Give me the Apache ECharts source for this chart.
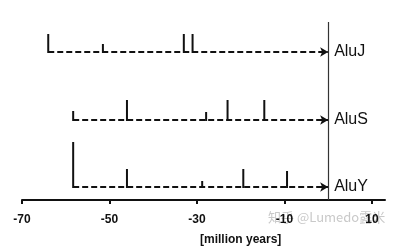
<!DOCTYPE html>
<html>
<head>
<meta charset="utf-8">
<script src="https://cdn.jsdelivr.net/npm/echarts@6/dist/echarts.min.js"></script>
<style>html,body{margin:0;padding:0;background:#fff}#c{width:400px;height:247px}</style>
</head>
<body>
<div id="c"></div>
<script>
// Data (million years before present, spike heights in arbitrary units)
var families = ['AluJ', 'AluS', 'AluY'];
var alujTimes = [-64, -51.5, -33, -31];
var alujHeights = [18, 8, 18, 18];
var alusTimes = [-58.3, -46, -27.9, -23, -14.6];
var alusHeights = [9, 20, 8, 20, 20];
var aluyTimes = [-58.3, -46, -28.8, -19.4, -9.4];
var aluyHeights = [45, 18, 6, 18, 16];
var xTicks = [-70, -50, -30, -10, 10];
var xAxisName = '[million years]';

// Layout
var rowBase = [148, 80, 13];
var arrowEnd = 0;
var ink = '#111';

var timesList = [alujTimes, alusTimes, aluyTimes];
var heightsList = [alujHeights, alusHeights, aluyHeights];

var series = [];
families.forEach(function (name, i) {
  var times = timesList[i], heights = heightsList[i], base = rowBase[i];
  var pts = times.map(function (t, k) { return [t, base, heights[k]]; });
  series.push({
    type: 'custom',
    name: name,
    data: pts,
    renderItem: function (params, api) {
      var p0 = api.coord([api.value(0), api.value(1)]);
      var p1 = api.coord([api.value(0), api.value(1) + api.value(2)]);
      return {
        type: 'line',
        shape: { x1: p0[0], y1: p0[1] + 1, x2: p1[0], y2: p1[1] },
        style: { stroke: ink, lineWidth: 2 }
      };
    },
    markLine: {
      silent: true,
      symbol: ['none', 'arrow'],
      symbolSize: [7, 8],
      lineStyle: { color: ink, width: 2, type: [6, 3] },
      label: {
        show: true, position: 'end', distance: 6,
        formatter: name, color: ink, fontSize: 16,
        fontFamily: 'Liberation Sans, Arial, sans-serif'
      },
      data: [[{ coord: [times[0], base] }, { coord: [arrowEnd, base] }]]
    }
  });
});

series.push({
  type: 'line', data: [], silent: true,
  markLine: {
    silent: true, symbol: ['none', 'none'],
    lineStyle: { color: '#333', width: 1.2, type: 'solid' },
    label: { show: false },
    data: [{ xAxis: 0 }]
  }
});

var chart = echarts.init(document.getElementById('c'), null, { renderer: 'canvas' });
chart.setOption({
  animation: false,
  backgroundColor: '#fff',
  grid: { left: 22, right: 15, top: 22, bottom: 47 },
  xAxis: {
    type: 'value', min: -70, max: 13,
    axisLine: { show: true, lineStyle: { color: ink, width: 2 } },
    axisTick: { show: true, length: 4, lineStyle: { color: ink, width: 2 }, customValues: xTicks },
    axisLabel: {
      color: ink, fontSize: 12, fontWeight: 'bold', margin: 14,
      fontFamily: 'Liberation Sans, Arial, sans-serif', customValues: xTicks
    },
    splitLine: { show: false }
  },
  yAxis: {
    type: 'value', min: 0, max: 178, show: false
  },
  graphic: [
    {
      type: 'text', left: 200, top: 234,
      style: { text: xAxisName, fill: ink, font: 'bold 12px "Liberation Sans", Arial, sans-serif' }
    },
    {
      type: 'text', left: 268, top: 211,
      style: { text: '知乎 @Lumedo露米', fill: '#c9c9c9', font: '13px "Noto Sans CJK SC", sans-serif' }
    }
  ],
  series: series
});
</script>
</body>
</html>
